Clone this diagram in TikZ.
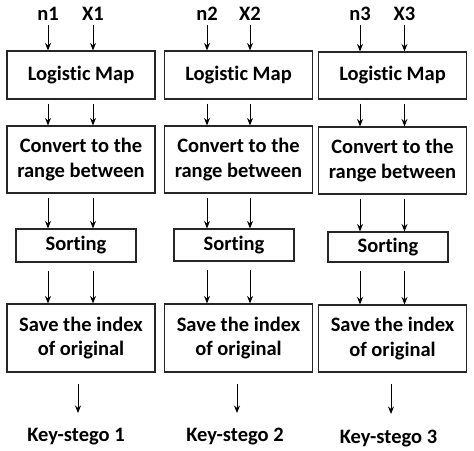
\documentclass[tikz,border=0pt]{standalone}
\usepackage{fontspec}
\setmainfont[RawFeature=-liga]{Carlito}
\usetikzlibrary{arrows.meta}
\begin{document}
\begin{tikzpicture}[x=1pt,y=-1pt,
 box/.style={draw=black!85,line width=1.1pt,minimum width=148pt,inner sep=0pt,align=center,font=\bfseries\fontsize{20.5}{24.5}\selectfont},
 sortbox/.style={box,minimum width=120pt},
 lbl/.style={anchor=base,inner sep=0pt,font=\bfseries\fontsize{20.5}{24}\selectfont},
 arr/.style={line width=1pt,-{Stealth[length=7.5pt,width=6pt]}}]
\useasboundingbox (0,0) rectangle (474,450);
% column 1
\node[lbl] (n1) at (48,20) {n1};
\node[lbl] (x1) at (93,20) {X1};
\node[box,minimum height=48pt] (lm1) at (81,75) {Logistic Map};
\node[box,minimum height=67pt] (cv1) at (81,159.5) {Convert to the\\range between};
\node[sortbox,minimum height=33pt] (so1) at (76,245.5) {Sorting};
\node[box,minimum height=68pt] (sv1) at (81,338) {Save the index\\of original};
\node[lbl] (ks1) at (76,441) {Key-stego 1};
\coordinate (k1) at (78,413);
% column 2
\node[lbl] (n2) at (207,20) {n2};
\node[lbl] (x2) at (250,20) {X2};
\node[box,minimum height=48pt] (lm2) at (238.5,75) {Logistic Map};
\node[box,minimum height=67pt] (cv2) at (238.5,159.5) {Convert to the\\range between};
\node[sortbox,minimum height=32pt] (so2) at (234,245) {Sorting};
\node[box,minimum height=68pt] (sv2) at (238.5,338) {Save the index\\of original};
\node[lbl] (ks2) at (235,441) {Key-stego 2};
\coordinate (k2) at (237,413);
% column 3
\node[lbl] (n3) at (360,20) {n3};
\node[lbl] (x3) at (404.5,20) {X3};
\node[box,minimum height=47pt] (lm3) at (392.5,75.5) {Logistic Map};
\node[box,minimum height=67pt] (cv3) at (392.5,160.5) {Convert to the\\range between};
\node[sortbox,minimum height=30pt] (so3) at (388,247) {Sorting};
\node[box,minimum height=67pt] (sv3) at (392.5,338.5) {Save the index\\of original};
\node[lbl] (ks3) at (388.5,443) {Key-stego 3};
\coordinate (k3) at (391,414);
% arrows
\foreach \i in {1,2,3}{
  \foreach \a in {n\i,x\i}{
    \draw[arr] ([yshift=-5pt]\a.base) -- (\a.base |- lm\i.north);
    \draw[arr,shorten <=4pt] (lm\i.south -| \a.base) -- (cv\i.north -| \a.base);
    \draw[arr,shorten <=4pt] (cv\i.south -| \a.base) -- (so\i.north -| \a.base);
    \draw[arr,shorten <=8pt] (so\i.south -| \a.base) -- (sv\i.north -| \a.base);
  }
  \draw[arr,shorten <=11pt] (sv\i.south -| k\i) -- (k\i);
}
\end{tikzpicture}
\end{document}
